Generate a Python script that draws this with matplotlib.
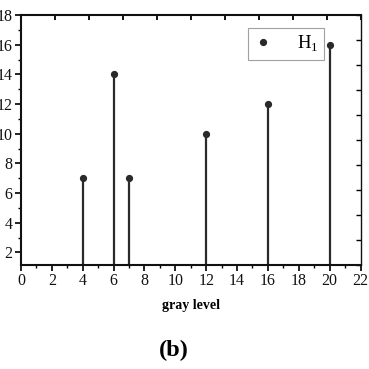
import numpy as np
import matplotlib
matplotlib.use("Agg")
import matplotlib.pyplot as plt
from matplotlib.ticker import MultipleLocator, FixedLocator

gray_level = [4, 6, 7, 12, 16, 20]
counts = [7, 14, 7, 10, 12, 16]
series_label = "H$_1$"
x_label = "gray level"
panel_label = "(b)"

plt.rcParams['font.family'] = ['Liberation Serif', 'DejaVu Serif']
plt.rcParams['mathtext.fontset'] = 'custom'
plt.rcParams['mathtext.rm'] = 'Liberation Serif'

fig = plt.figure(figsize=(3.69, 3.69), dpi=100)
ax = fig.add_axes([0.057, 0.282, 0.920, 0.677])

xmin, xmax = 0, 22
ymin, ymax = 1.15, 18
ax.set_xlim(xmin, xmax)
ax.set_ylim(ymin, ymax)

col = '#2a2a2a'
ax.vlines(gray_level, ymin, counts, colors=col, linewidth=1.6, zorder=2)
ax.plot(gray_level, counts, 'o', color=col, markersize=4.2, zorder=3,
        label=series_label, linestyle='none')

ax.xaxis.set_major_locator(MultipleLocator(2))
ax.xaxis.set_minor_locator(MultipleLocator(1))
ax.yaxis.set_major_locator(FixedLocator(np.arange(2, 19, 2)))
ax.yaxis.set_minor_locator(FixedLocator(np.arange(3, 18, 2)))
ax.tick_params(axis='both', which='major', direction='out', length=4, width=1.3,
               labelsize=11.5, pad=2, colors='#111111')
ax.tick_params(axis='both', which='minor', direction='out', length=2.5, width=1.0)

for s in ax.spines.values():
    s.set_linewidth(1.5)
    s.set_color('#111111')
ax.spines['right'].set_linewidth(1.0)

# mirrored ticks (Origin style) on top/right
top = ax.secondary_xaxis('top')
top.set_xticks(np.linspace(xmin, xmax, 11))
top.tick_params(direction='in', length=3.5, width=1.3, labeltop=False)
top.set_xticklabels([])
right = ax.secondary_yaxis('right')
right.set_yticks(np.linspace(ymin, ymax, 11))
right.tick_params(direction='in', length=3.5, width=1.0, labelright=False)
right.set_yticklabels([])
top.spines['top'].set_visible(False)
right.spines['right'].set_visible(False)

leg = ax.legend(loc='upper right', bbox_to_anchor=(0.893, 0.948), frameon=True,
                fancybox=False, fontsize=13.5, handlelength=1.0, handletextpad=1.3,
                borderpad=0.3, borderaxespad=0, markerscale=1.0)
leg.get_frame().set_edgecolor('#888888')
leg.get_frame().set_linewidth(0.8)

fig.text(0.517, 1 - 305/369, x_label, ha='center', va='center',
         fontsize=10, fontweight='bold')
fig.text(0.472, 1 - 350/369, panel_label, ha='center', va='center',
         fontsize=17.5, fontweight='bold')

fig.savefig('out.png', dpi=100)
